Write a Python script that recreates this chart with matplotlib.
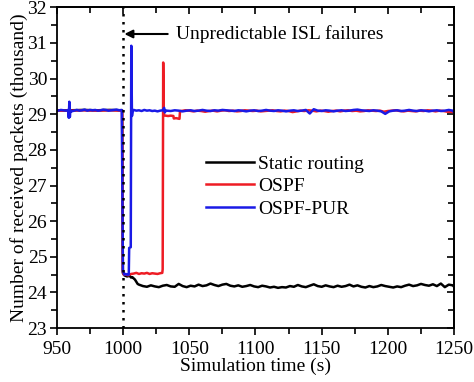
import matplotlib
matplotlib.use("Agg")
import matplotlib.pyplot as plt
from matplotlib.ticker import MultipleLocator

plt.rcParams['font.family'] = ['Liberation Serif', 'DejaVu Serif']
plt.rcParams['mathtext.fontset'] = 'stix'

# ---------------- data ----------------
# Static routing
black_head_t = [950, 960, 970, 980, 990, 999.3, 999.8, 1001, 1003, 1005, 1006, 1007, 1009, 1010, 1011]
black_head_v = [29.11, 29.11, 29.12, 29.11, 29.12, 29.11, 24.55, 24.48, 24.45, 24.47, 24.42, 24.43, 24.36, 24.30, 24.24]
black_tail_t = list(range(1012, 1250, 3)) + [1250]
black_tail_v = [24.22, 24.18, 24.16, 24.20, 24.17, 24.15, 24.19, 24.21, 24.17, 24.16,
                24.24, 24.18, 24.15, 24.19, 24.17, 24.22, 24.18, 24.20, 24.25, 24.21,
                24.18, 24.22, 24.24, 24.19, 24.17, 24.20, 24.16, 24.18, 24.21, 24.17,
                24.15, 24.19, 24.17, 24.14, 24.16, 24.13, 24.15, 24.14, 24.18, 24.16,
                24.21, 24.17, 24.15, 24.19, 24.23, 24.18, 24.16, 24.20, 24.17, 24.15,
                24.19, 24.16, 24.18, 24.22, 24.17, 24.20, 24.16, 24.14, 24.18, 24.15,
                24.17, 24.21, 24.18, 24.16, 24.14, 24.17, 24.15, 24.19, 24.22, 24.18,
                24.20, 24.24, 24.21, 24.19, 24.23, 24.18, 24.25, 24.15, 24.22, 24.20,
                24.16]

# OSPF
red_head_t = [950, 960, 970, 980, 990, 999.3, 999.8, 1000.5, 1002, 1004, 1006, 1008, 1010, 1012,
              1014, 1016, 1018, 1020, 1022, 1024, 1026, 1028, 1029.6, 1029.9, 1030.3, 1030.7,
              1032, 1034, 1036, 1038, 1038.3, 1040, 1042.6, 1043]
red_head_v = [29.10, 29.10, 29.11, 29.10, 29.11, 29.10, 24.60, 24.50, 24.50, 24.48, 24.52, 24.53,
              24.55, 24.52, 24.54, 24.53, 24.55, 24.52, 24.54, 24.53, 24.52, 24.54, 24.55, 24.65,
              30.45, 28.98, 28.96, 28.95, 28.96, 28.95, 28.88, 28.89, 28.87, 29.09]
red_tail_t = list(range(1044, 1248, 3)) + [1250]
red_tail_v = [29.09, 29.11, 29.10, 29.08, 29.10, 29.09, 29.07, 29.09, 29.10, 29.08,
              29.10, 29.11, 29.09, 29.10, 29.08, 29.09, 29.11, 29.10, 29.09, 29.10,
              29.08, 29.09, 29.10, 29.11, 29.09, 29.08, 29.10, 29.09, 29.06, 29.08,
              29.10, 29.09, 29.11, 29.10, 29.08, 29.10, 29.09, 29.07, 29.09, 29.10,
              29.08, 29.10, 29.11, 29.09, 29.10, 29.08, 29.09, 29.11, 29.10, 29.09,
              29.10, 29.07, 29.09, 29.10, 29.11, 29.09, 29.08, 29.10, 29.09, 29.08,
              29.10, 29.09, 29.11, 29.10, 29.08, 29.10, 29.09, 29.07, 29.06]

# OSPF-PUR
blue_head_t = [950, 951, 953, 955, 957, 958.6, 959.0, 959.4, 959.8, 960.2, 961, 963, 965, 967,
               969, 971, 973, 975, 977, 979, 981, 983, 985, 987, 989, 991, 993, 995, 997, 999,
               999.4, 999.9, 1001, 1002, 1003, 1004.3, 1004.6, 1005.8, 1006.2, 1006.7, 1007.2,
               1008, 1010, 1012, 1014, 1016, 1018, 1020, 1022, 1024, 1026, 1028, 1030, 1031,
               1031.6, 1032]
blue_head_v = [29.12, 29.10, 29.12, 29.11, 29.10, 29.12, 28.90, 29.35, 28.92, 29.12, 29.08, 29.10,
               29.12, 29.10, 29.11, 29.13, 29.10, 29.12, 29.11, 29.12, 29.10, 29.11, 29.13, 29.12,
               29.10, 29.11, 29.12, 29.13, 29.11, 29.12, 27.00, 24.60, 24.50, 24.52, 24.50, 24.50,
               25.25, 25.27, 30.92, 28.95, 29.08, 29.12, 29.10, 29.11, 29.09, 29.12, 29.10, 29.11,
               29.09, 29.10, 29.08, 29.10, 29.11, 29.18, 29.05, 29.11]
blue_tail_t = list(range(1033, 1250, 3)) + [1250]
blue_tail_v = [29.10, 29.09, 29.11, 29.10, 29.08, 29.10, 29.11, 29.09, 29.10, 29.12,
               29.10, 29.09, 29.11, 29.10, 29.12, 29.11, 29.10, 29.09, 29.11, 29.10,
               29.08, 29.10, 29.11, 29.09, 29.10, 29.12, 29.10, 29.09, 29.11, 29.10,
               29.08, 29.10, 29.11, 29.09, 29.10, 29.12, 29.02, 29.14, 29.10, 29.09,
               29.11, 29.10, 29.08, 29.10, 29.11, 29.09, 29.10, 29.12, 29.13, 29.11,
               29.10, 29.09, 29.11, 29.10, 29.08, 29.01, 29.08, 29.10, 29.11, 29.09,
               29.10, 29.12, 29.10, 29.09, 29.11, 29.10, 29.08, 29.10, 29.11, 29.09,
               29.10, 29.12, 29.10, 29.05]

labels = ["Static routing", "OSPF", "OSPF-PUR"]
failure_time = 1000
xticks = [950, 1000, 1050, 1100, 1150, 1200, 1250]
yticks = [23, 24, 25, 26, 27, 28, 29, 30, 31, 32]

# ---------------- figure ----------------
fig = plt.figure(figsize=(4.74, 3.82), dpi=100)
ax = fig.add_axes([0.120, 0.141, 0.838, 0.840])

FS = 14
lw = 1.8
ax.plot(black_head_t + black_tail_t, black_head_v + black_tail_v, color='black', lw=lw, label=labels[0])
ax.plot(red_head_t + red_tail_t, red_head_v + red_tail_v, color='#ee1c24', lw=lw, label=labels[1])
ax.plot(blue_head_t + blue_tail_t, blue_head_v + blue_tail_v, color='#1a1ae6', lw=lw, label=labels[2])

ax.axvline(failure_time, color='black', ls=(0, (1.0, 2.2)), lw=1.8, zorder=5)

ax.annotate("Unpredictable ISL failures", xy=(1001, 31.25), xytext=(1040, 31.25),
            fontsize=FS, va='center', ha='left',
            arrowprops=dict(arrowstyle='-|>', color='black', lw=1.5,
                            mutation_scale=12, shrinkA=4, shrinkB=0))

ax.set_xlim(950, 1250)
ax.set_ylim(23, 32)
ax.set_xticks(xticks)
ax.set_yticks(yticks)
ax.xaxis.set_minor_locator(MultipleLocator(25))
ax.yaxis.set_minor_locator(MultipleLocator(0.5))
ax.tick_params(which='both', direction='out', top=False, right=False, width=1.2, labelsize=FS, pad=2)
ax.tick_params(axis='x', which='both', pad=4)
ax.tick_params(which='major', length=5)
ax.tick_params(which='minor', length=4)

# inward mirrored ticks on top/right
ax2 = ax.secondary_xaxis('top')
ax2.set_xticks(xticks)
ax2.xaxis.set_minor_locator(MultipleLocator(25))
ax2.tick_params(which='both', direction='in', labeltop=False, width=1.2)
ax2.tick_params(which='major', length=5)
ax2.tick_params(which='minor', length=4)
ax2.set_xticklabels([])
ay2 = ax.secondary_yaxis('right')
ay2.set_yticks(yticks)
ay2.yaxis.set_minor_locator(MultipleLocator(0.5))
ay2.tick_params(which='both', direction='in', width=1.2)
ay2.tick_params(which='major', length=5)
ay2.tick_params(which='minor', length=4)
ay2.set_yticklabels([])

for s in ax.spines.values():
    s.set_linewidth(1.3)
ax2.spines['top'].set_linewidth(1.3)
ay2.spines['right'].set_linewidth(1.3)

ax.set_xlabel("Simulation time (s)", fontsize=FS, labelpad=0)
ax.set_ylabel("Number of received packets (thousand)", fontsize=FS, labelpad=0)

ax.legend(loc='center left', bbox_to_anchor=(0.375, 0.442), frameon=False, fontsize=FS,
          handlelength=2.5, handletextpad=0.2, labelspacing=0.25, borderpad=0, borderaxespad=0)

fig.savefig("out.png", dpi=100)
